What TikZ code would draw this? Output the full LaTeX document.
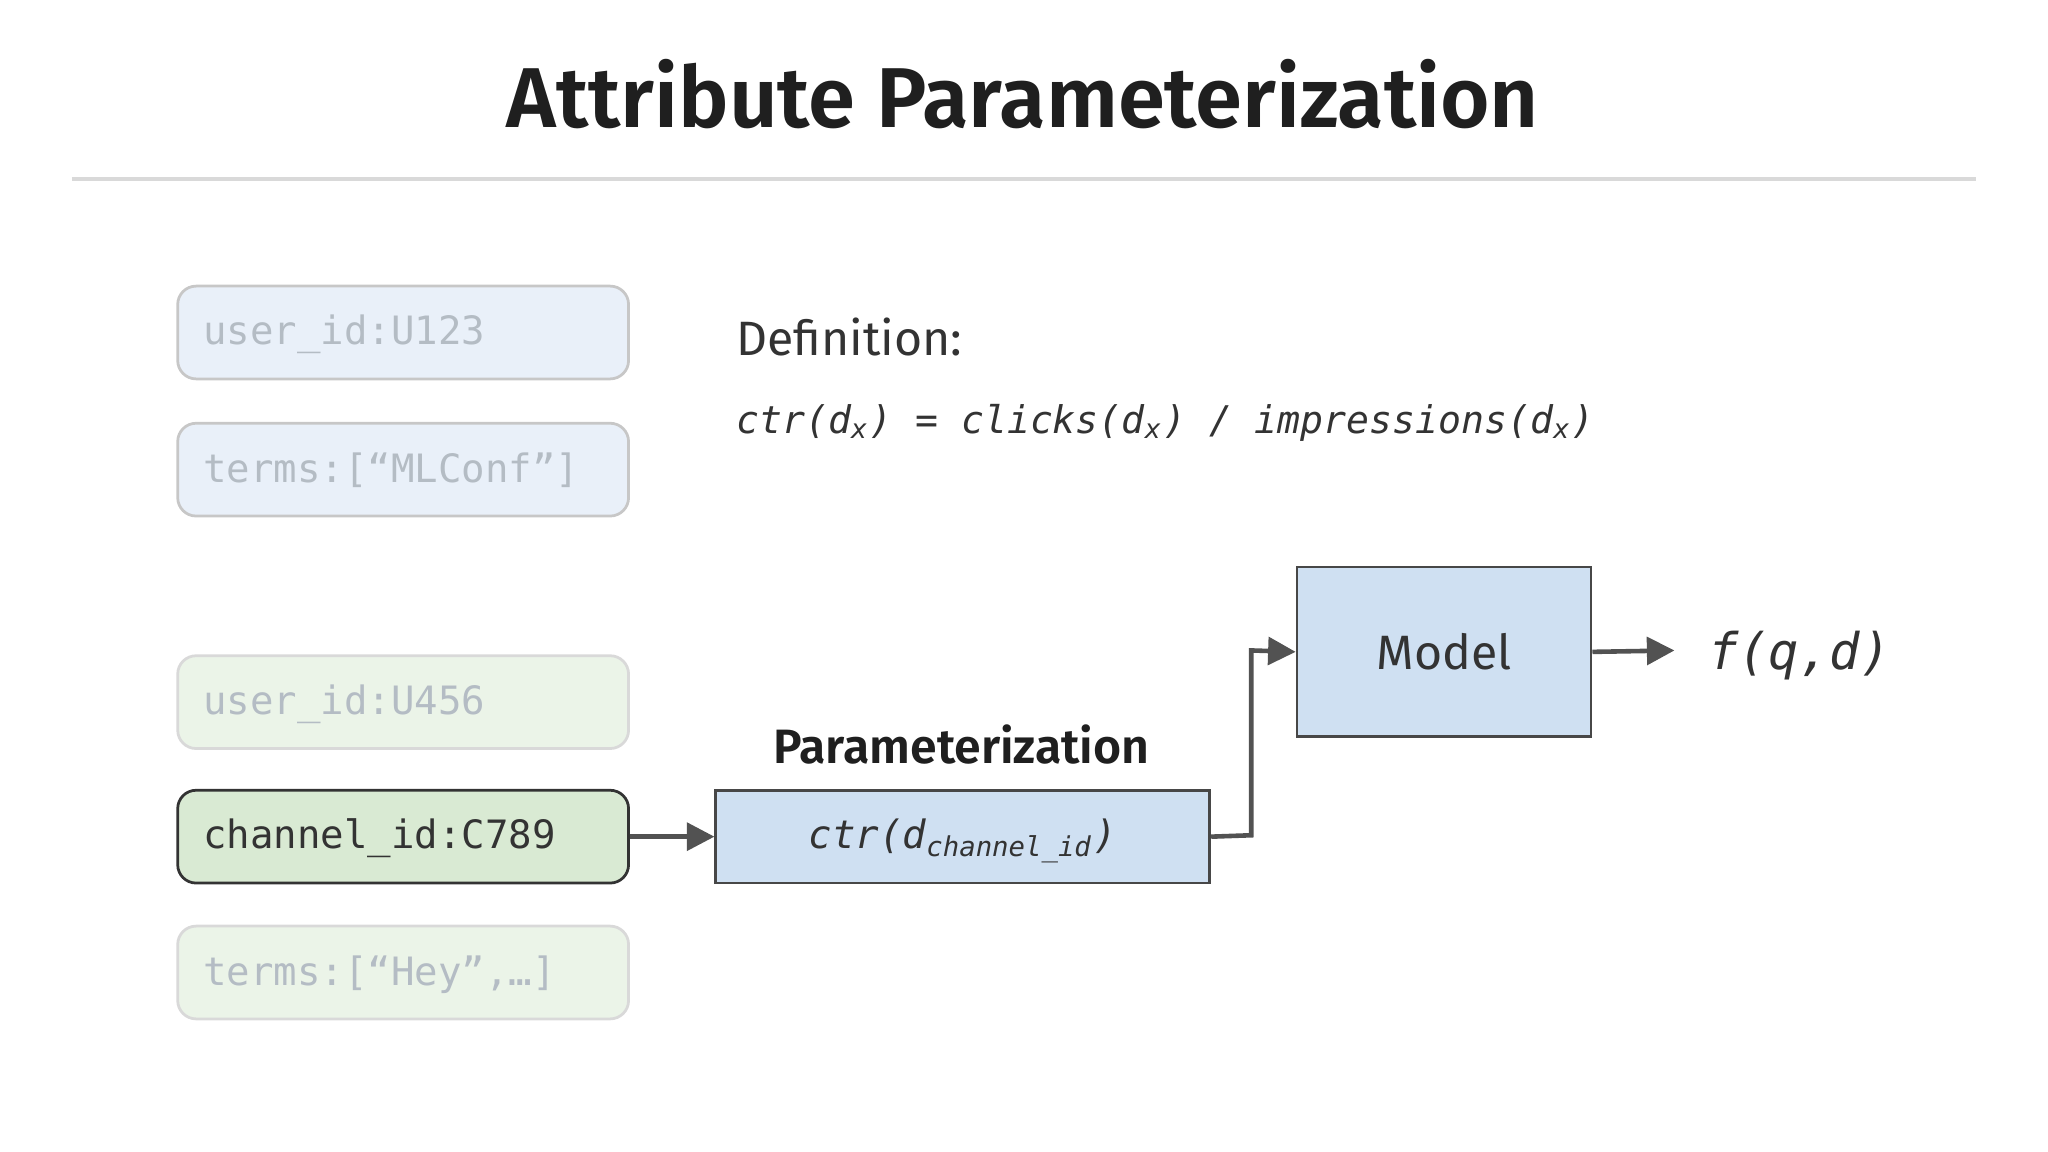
\documentclass[tikz,border=0pt]{standalone}
\usepackage{fontspec}
\setmainfont{Fira Sans}[BoldFont={Fira Sans SemiBold}]
\setmonofont{DejaVu Sans Mono}
\usetikzlibrary{arrows.meta}
\definecolor{fadeblue}{HTML}{E9F0F9}
\definecolor{fadegreen}{HTML}{EBF4E8}
\definecolor{chgreen}{HTML}{D9EAD3}
\definecolor{modblue}{HTML}{CFE0F2}
\definecolor{fadetxt}{HTML}{B4BCC4}
\definecolor{dark}{HTML}{333333}
\tikzset{
 attr/.style={draw=#1, rounded corners=4pt, line width=0.6pt, minimum width=3.45cm, minimum height=0.71cm, anchor=north west, inner sep=0pt},
 fade/.style={text=fadetxt, font=\ttfamily\fontsize{8.5}{10}\selectfont},
 blk/.style={draw=dark!90, fill=modblue, line width=0.6pt, anchor=north west, inner sep=0pt},
 arr/.style={draw=dark!85, line width=1pt, -{Triangle[length=6pt,width=6pt]}},
 lbl/.style={anchor=west, inner sep=0pt}
}
\begin{document}
\begin{tikzpicture}[x=0.01cm,y=-0.01cm]
\useasboundingbox (0,0) rectangle (1568,882);
\node[font=\bfseries\fontsize{18.5}{22}\selectfont, text=black!88] (title) at (783,72) {Attribute Parameterization};
\draw[black!15, line width=0.7pt] (55,137) -- (1513,137);
\node[attr=black!22, fill=fadeblue] (u1) at (135,218) {};
\node[fade, lbl] at (155,256) {user\_id:U123};
\node[attr=black!22, fill=fadeblue] (t1) at (135,323) {};
\node[fade, lbl] at (155,360) {terms:[“MLConf”]};
\node[attr=black!15, fill=fadegreen] (u2) at (135,501) {};
\node[fade, lbl] at (155,539) {user\_id:U456};
\node[attr=dark, fill=chgreen] (ch) at (135,604) {};
\node[lbl, font=\ttfamily\fontsize{8.5}{10}\selectfont, text=dark] at (155,642) {channel\_id:C789};
\node[attr=black!15, fill=fadegreen] (t2) at (135,708) {};
\node[fade, lbl] at (155,746) {terms:[“Hey”,…]};
\node[lbl, font=\fontsize{10.5}{12}\selectfont, text=dark] (def) at (563,258) {Definition:};
\node[lbl, font=\ttfamily\itshape\fontsize{8.3}{10}\selectfont, text=dark] (form) at (563,324)
 {ctr(d\textsubscript{x}) = clicks(d\textsubscript{x}) / impressions(d\textsubscript{x})};
\node[blk, minimum width=3.78cm, minimum height=0.71cm] (par) at (547,604) {};
\node[font=\ttfamily\itshape\fontsize{8.5}{10}\selectfont, text=dark] at ([yshift=-1pt]par.center) {ctr(d\textsubscript{channel\_id})};
\node[font=\bfseries\fontsize{10.5}{13}\selectfont, text=black!88] (plbl) at (736,570) {Parameterization};
\node[blk, minimum width=2.25cm, minimum height=1.30cm] (mod) at (992,433) {};
\node[font=\fontsize{10.5}{13}\selectfont, text=dark] at (mod.center) {Model};
\node[lbl, font=\ttfamily\itshape\fontsize{11}{12}\selectfont, text=dark] (f) at (1307,502) {f(q,d)};
\draw[arr] (ch.east) -- (par.west);
\draw[arr] (par.east) -- (958,639.5) -- (958,498) -- (mod.west);
\draw[arr] (mod.east) -- (1282,498);
\end{tikzpicture}
\end{document}
